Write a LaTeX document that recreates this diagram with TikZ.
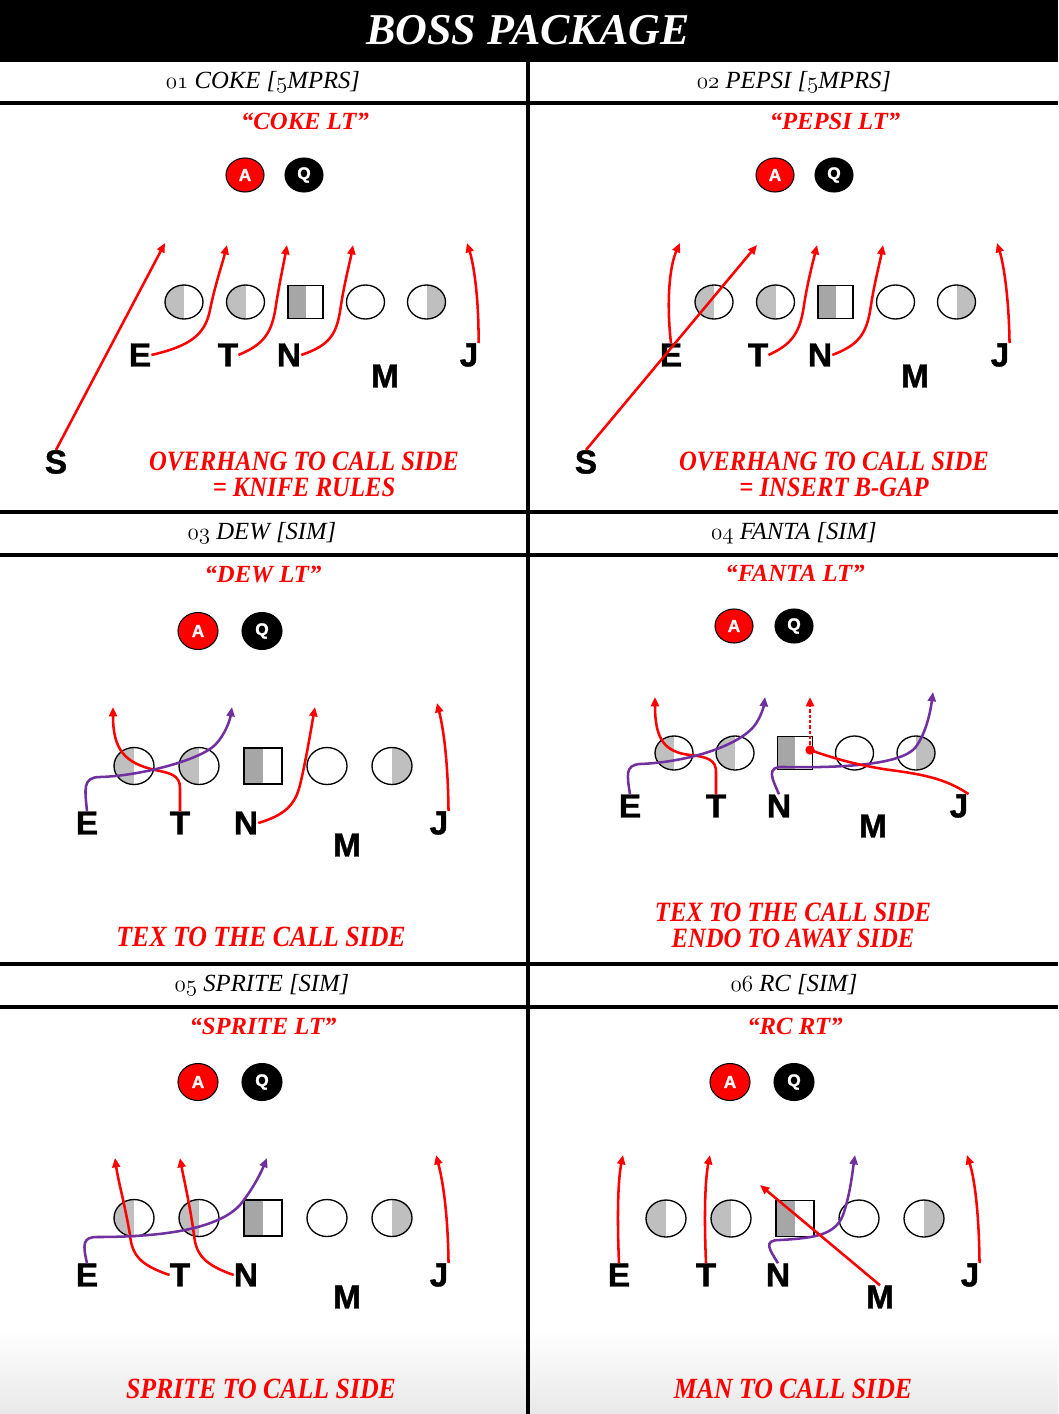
\documentclass[tikz,border=0pt]{standalone}
\usepackage{fontspec}
\setmainfont{Liberation Serif}
\newfontfamily\plfont{Liberation Sans}[BoldFeatures={FakeBold=1.2}]
\newfontfamily\notefont{Liberation Serif}[FakeStretch=0.88]
\usetikzlibrary{arrows.meta}
\usetikzlibrary{shapes.geometric}
\definecolor{lgrey}{RGB}{191,191,191}
\definecolor{dgrey}{RGB}{166,166,166}
\definecolor{rpurp}{RGB}{112,48,160}
\newcommand{\osn}[1]{{\usefont{OML}{cmm}{m}{it}#1}}

\begin{document}
\begin{tikzpicture}[x=0.75pt,y=0.75pt,yscale=-1,xscale=1,
  manO/.style={ellipse,draw,line width=1pt,inner sep=0pt,minimum width=28.5pt,minimum height=25.5pt},
  manL/.style={manO,path picture={\fill[lgrey] (path picture bounding box.south west) rectangle (path picture bounding box.north);}},
  manR/.style={manO,path picture={\fill[lgrey] (path picture bounding box.south) rectangle (path picture bounding box.north east);}},
  bigman/.style={minimum width=30pt,minimum height=27.75pt},
  ctr/.style={rectangle,draw,line width=1pt,inner sep=0pt,minimum width=26.25pt,minimum height=24.75pt,path picture={\fill[dgrey] (path picture bounding box.south west) rectangle (path picture bounding box.north);}},
  bigctr/.style={minimum width=28.5pt,minimum height=27pt},
  aback/.style={ellipse,draw,line width=0.8pt,fill=red,text=white,font=\plfont\bfseries\fontsize{13}{13}\selectfont,inner sep=0pt,minimum width=28.5pt,minimum height=25.5pt},
  qback/.style={aback,fill=black},
  plr/.style={font=\plfont\bfseries\fontsize{25}{25}\selectfont,inner sep=0pt},
  hdr/.style={font=\itshape\fontsize{18.5}{18.5}\selectfont},
  call/.style={text=red,font=\bfseries\itshape\fontsize{18.5}{18.5}\selectfont},
  note/.style={text=red,align=center,font=\notefont\bfseries\itshape\fontsize{22}{19.5}\selectfont},
  smallnote/.style={note,font=\notefont\bfseries\itshape\fontsize{21}{19.5}\selectfont},
  rt/.style={draw=red,line width=1.9pt,-{Triangle[length=7pt,width=6pt]}},
  pt/.style={rt,draw=rpurp},
  rtn/.style={draw=red,line width=1.9pt}]
\useasboundingbox (0,0) rectangle (1058,1414);

%Shape: bottom shade
\shade [top color=white,bottom color=black!9] (0,1330) rectangle (1058,1414);
%Shape: title bar
\fill [black] (0,0) rectangle (1058,62);
\node [text=white,font=\bfseries\itshape\fontsize{33}{33}\selectfont] (ttl) at (528,30) {BOSS PACKAGE};
%Straight Lines: grid
\draw [line width=3pt] (528,62) -- (528,1414);
\draw [line width=3pt] (0,103) -- (1058,103);
\draw [line width=3pt] (0,512) -- (1058,512);
\draw [line width=3pt] (0,555) -- (1058,555);
\draw [line width=3pt] (0,964) -- (1058,964);
\draw [line width=3pt] (0,1007) -- (1058,1007);

%Text: headers
\node [hdr] (h1) at (263,82) {\osn{01} COKE [\osn{5}MPRS]};
\node [hdr] (h2) at (794,82) {\osn{02} PEPSI [\osn{5}MPRS]};
\node [hdr] (h3) at (262,533) {\osn{03} DEW [SIM]};
\node [hdr] (h4) at (794,533) {\osn{04} FANTA [SIM]};
\node [hdr] (h5) at (262,985) {\osn{05} SPRITE [SIM]};
\node [hdr] (h6) at (794,985) {\osn{06} RC [SIM]};

%%%%%% 01 COKE
\node [call] (c1) at (305,121) {“COKE LT”};
\node [aback] (p1A) at (245,175) {A};
\node [qback] (p1Q) at (304,175) {Q};
\node [manL] (p1g1) at (184,302) {};
\node [manL] (p1g2) at (245.5,302) {};
\node [ctr] (p1g3) at (305.5,302) {};
\node [manO] (p1g4) at (365.5,302) {};
\node [manR] (p1g5) at (426.5,302) {};
\node [plr] (p1E) at (140,355) {E};
\node [plr] (p1T) at (228,355) {T};
\node [plr] (p1N) at (289,355) {N};
\node [plr] (p1M) at (385,376) {M};
\node [plr] (p1J) at (469,355) {J};
\node [plr] (p1S) at (56,462) {S};
\coordinate (p1tS) at (165,243);
\coordinate (p1tE) at (227,245);
\coordinate (p1tT) at (287,245);
\coordinate (p1tN) at (353,245);
\coordinate (p1tJ) at (467,243);
%Curve Lines
\draw [rt] (p1S.north) -- (p1tS);
\draw [rt] (p1E.east) .. controls (190,346) and (205,335) .. (210,310) .. controls (215,285) and (222,265) .. (p1tE);
\draw [rt] (p1T.east) .. controls (262,345) and (272,335) .. (276,305) .. controls (280,280) and (284,262) .. (p1tT);
\draw [rt] (p1N.east) .. controls (330,345) and (337,335) .. (341,305) .. controls (345,280) and (350,262) .. (p1tN);
\draw [rt] (p1J.north east) .. controls (479,300) and (474,265) .. (p1tJ);
\node [smallnote] (n1) at (304,474) {OVERHANG TO CALL SIDE\\= KNIFE RULES};

%%%%%% 02 PEPSI
\node [call] (c2) at (835,121) {“PEPSI LT”};
\node [aback] (p2A) at (775,175) {A};
\node [qback] (p2Q) at (834,175) {Q};
\node [manL] (p2g1) at (714,302) {};
\node [manL] (p2g2) at (775.5,302) {};
\node [ctr] (p2g3) at (835.5,302) {};
\node [manO] (p2g4) at (895.5,302) {};
\node [manR] (p2g5) at (956.5,302) {};
\node [plr] (p2E) at (671,355) {E};
\node [plr] (p2T) at (758,355) {T};
\node [plr] (p2N) at (820,355) {N};
\node [plr] (p2M) at (915,376) {M};
\node [plr] (p2J) at (1000,355) {J};
\node [plr] (p2S) at (586,462) {S};
\coordinate (p2tS) at (757,245);
\coordinate (p2tE) at (680,243);
\coordinate (p2tT) at (817,245);
\coordinate (p2tN) at (883,245);
\coordinate (p2tJ) at (997,243);
%Curve Lines
\draw [rt] (p2S.north) -- (p2tS);
\draw [rt] (p2E.north) .. controls (666,300) and (670,265) .. (p2tE);
\draw [rt] (p2T.east) .. controls (790,345) and (800,335) .. (804,305) .. controls (808,280) and (813,262) .. (p2tT);
\draw [rt] (p2N.east) .. controls (858,345) and (867,335) .. (871,305) .. controls (875,280) and (880,262) .. (p2tN);
\draw [rt] (p2J.north east) .. controls (1009,300) and (1004,265) .. (p2tJ);
\node [smallnote] (n2) at (834,474) {OVERHANG TO CALL SIDE\\= INSERT B-GAP};

%%%%%% 03 DEW
\node [call] (c3) at (263,574) {“DEW LT”};
\node [aback,bigman] (p3A) at (198,631) {A};
\node [qback,bigman] (p3Q) at (262,631) {Q};
\node [manL,bigman] (p3g1) at (134,766) {};
\node [manL,bigman] (p3g2) at (199,766) {};
\node [ctr,bigctr] (p3g3) at (263,766) {};
\node [manO,bigman] (p3g4) at (327,766) {};
\node [manR,bigman] (p3g5) at (392,766) {};
\node [plr] (p3E) at (87,823) {E};
\node [plr] (p3T) at (180,823) {T};
\node [plr] (p3N) at (246,823) {N};
\node [plr] (p3M) at (347,845) {M};
\node [plr] (p3J) at (439,823) {J};
\coordinate (p3tT) at (113,707);
\coordinate (p3tE) at (232,707);
\coordinate (p3tN) at (315,707);
\coordinate (p3tJ) at (437,703);
%Curve Lines
\draw [rt] (p3T.north) -- (180,788) .. controls (180,775) and (170,773) .. (155,770) .. controls (125,763) and (113,750) .. (p3tT);
\draw [pt] (p3E.north) .. controls (85,790) and (82,777) .. (100,777) .. controls (140,776) and (200,760) .. (215,745) .. controls (225,735) and (230,720) .. (p3tE);
\draw [rt] (p3N.east) .. controls (285,815) and (295,805) .. (300,785) .. controls (306,760) and (310,735) .. (p3tN);
\draw [rt] (p3J.north east) .. controls (448,770) and (445,735) .. (p3tJ);
\node [note] (n3) at (261,937) {TEX TO THE CALL SIDE};

%%%%%% 04 FANTA
\node [call] (c4) at (795,573) {“FANTA LT”};
\node [aback] (p4A) at (734,626) {A};
\node [qback] (p4Q) at (794,626) {Q};
\node [manL] (p4g1) at (674,753) {};
\node [manL] (p4g2) at (735,753) {};
\node [ctr] (p4g3) at (795,753) {};
\node [manO] (p4g4) at (854.5,753) {};
\node [manR] (p4g5) at (916,753) {};
\node [plr] (p4E) at (630,806) {E};
\node [plr] (p4T) at (716,806) {T};
\node [plr] (p4N) at (779,806) {N};
\node [plr] (p4M) at (873,826) {M};
\node [plr] (p4J) at (959,806) {J};
\node [circle,fill=red,inner sep=0pt,minimum size=7pt] (p4dot) at (810,750) {};
\coordinate (p4tT) at (655,697);
\coordinate (p4tE) at (765,697);
\coordinate (p4tN) at (933,692);
\coordinate (p4tD) at (810,697);
%Curve Lines
\draw [rt] (p4T.north) -- (716,772) .. controls (716,760) and (708,757) .. (690,755) .. controls (665,752) and (655,740) .. (p4tT);
\draw [pt] (p4E.north) .. controls (627,775) and (625,765) .. (640,764) .. controls (690,762) and (740,745) .. (755,725) .. controls (762,715) and (764,705) .. (p4tE);
\draw [pt] (p4N.north) .. controls (772,778) and (765,766) .. (785,767) .. controls (840,768) and (900,765) .. (915,748) .. controls (925,735) and (930,715) .. (p4tN);
\draw [rtn] (p4J.north east) .. controls (945,778) and (920,774) .. (890,770) .. controls (855,765) and (830,757) .. (p4dot.center);
\draw [rt,dash pattern=on 2.5pt off 1.5pt] (p4dot.center) -- (p4tD);
\node [smallnote] (n4) at (793,925) {TEX TO THE CALL SIDE\\ENDO TO AWAY SIDE};

%%%%%% 05 SPRITE
\node [call] (c5) at (263,1026) {“SPRITE LT”};
\node [aback,bigman] (p5A) at (198,1082) {A};
\node [qback,bigman] (p5Q) at (262,1082) {Q};
\node [manL,bigman] (p5g1) at (134,1218) {};
\node [manL,bigman] (p5g2) at (199,1218) {};
\node [ctr,bigctr] (p5g3) at (263,1218) {};
\node [manO,bigman] (p5g4) at (327,1218) {};
\node [manR,bigman] (p5g5) at (392,1218) {};
\node [plr] (p5E) at (87,1275) {E};
\node [plr] (p5T) at (180,1275) {T};
\node [plr] (p5N) at (246,1275) {N};
\node [plr] (p5M) at (347,1297) {M};
\node [plr] (p5J) at (439,1275) {J};
\coordinate (p5tT) at (115,1158);
\coordinate (p5tN) at (180,1158);
\coordinate (p5tE) at (267,1158);
\coordinate (p5tJ) at (436,1155);
%Curve Lines
\draw [rt] (p5T.west) .. controls (140,1265) and (132,1255) .. (130,1235) .. controls (125,1205) and (118,1180) .. (p5tT);
\draw [rt] (p5N.west) .. controls (205,1265) and (196,1255) .. (194,1235) .. controls (190,1205) and (184,1180) .. (p5tN);
\draw [pt] (p5E.north) .. controls (83,1245) and (82,1237) .. (97,1237) .. controls (150,1237) and (215,1232) .. (240,1205) .. controls (252,1190) and (260,1175) .. (p5tE);
\draw [rt] (p5J.north east) .. controls (448,1220) and (444,1185) .. (p5tJ);
\node [note] (n5) at (261,1389) {SPRITE TO CALL SIDE};

%%%%%% 06 RC
\node [call] (c6) at (795,1026) {“RC RT”};
\node [aback,bigman] (p6A) at (730,1082) {A};
\node [qback,bigman] (p6Q) at (794,1082) {Q};
\node [manL,bigman] (p6g1) at (666,1218.5) {};
\node [manL,bigman] (p6g2) at (731,1218.5) {};
\node [ctr,bigctr] (p6g3) at (795,1218.5) {};
\node [manO,bigman] (p6g4) at (859,1218.5) {};
\node [manR,bigman] (p6g5) at (924,1218.5) {};
\node [plr] (p6E) at (619,1275) {E};
\node [plr] (p6T) at (706,1275) {T};
\node [plr] (p6N) at (778,1275) {N};
\node [plr] (p6M) at (880,1297) {M};
\node [plr] (p6J) at (970,1275) {J};
\coordinate (p6tE) at (623,1155);
\coordinate (p6tT) at (710,1155);
\coordinate (p6tN) at (855,1155);
\coordinate (p6tM) at (760,1185);
\coordinate (p6tJ) at (967,1155);
%Curve Lines
\draw [rt] (p6E.north) .. controls (617,1215) and (618,1180) .. (p6tE);
\draw [rt] (p6T.north) .. controls (704,1215) and (705,1180) .. (p6tT);
\draw [pt] (p6N.north) .. controls (770,1250) and (762,1240) .. (780,1240) .. controls (815,1238) and (835,1235) .. (843,1215) .. controls (850,1195) and (852,1175) .. (p6tN);
\draw [rt] (p6M.north) -- (p6tM);
\draw [rt] (p6J.north east) .. controls (979,1215) and (975,1180) .. (p6tJ);
\node [note] (n6) at (793,1389) {MAN TO CALL SIDE};

\end{tikzpicture}
\end{document}
